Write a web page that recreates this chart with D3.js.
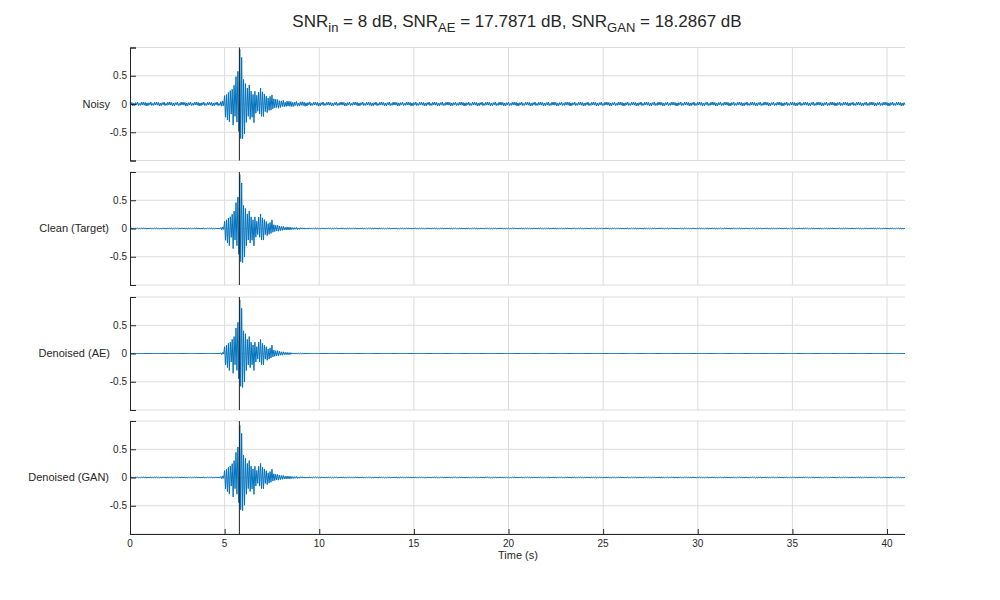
<!DOCTYPE html><html><head><meta charset="utf-8">
<script src="https://cdn.jsdelivr.net/npm/d3@7"></script>
<style>body{margin:0;background:#fff}text{font-family:"Liberation Sans",Arial,sans-serif}</style></head><body>
<svg id="c" width="1000" height="600"></svg>
<script>
// ---- data ----
const panelLabels = ["Noisy","Clean (Target)","Denoised (AE)","Denoised (GAN)"];
const xTicks = [0,5,10,15,20,25,30,35,40];
const yTicks = [-0.5,0,0.5];
const dt = 0.05;
const eventStart = 4.8;
// clean event samples from 4.8 s, step 0.05 s
const eventClean = [0.01,-0.02,0.02,-0.01,
 0.12,-0.2,0.15,-0.25,0.18,-0.3,0.2,-0.15,0.25,-0.35,
 0.3,-0.2,0.45,-0.3,0.55,-0.45,
 0.95,-0.58,0.8,-0.6,0.4,-0.5,0.35,-0.3,0.25,-0.2,
 0.3,-0.25,0.2,-0.2,0.15,-0.3,0.2,-0.15,0.12,-0.1,
 0.2,-0.15,0.25,-0.2,0.18,-0.2,0.15,-0.1,0.12,-0.12,
 0.08,-0.1,0.1,-0.08,0.15,-0.06,0.06,-0.05,0.05,-0.04,
 0.05,-0.04,0.04,-0.03,0.03,-0.03,0.03,-0.02,0.02,-0.02,
 0.02,-0.02,0.015,-0.02,0.015,-0.01,0.01,-0.01,0.01,-0.01,
 0.01,-0.01,0.008,-0.008,0.006,-0.006,0.005,-0.005,0.004,-0.004,
 0.003,-0.003,0.002,-0.002,0.002,-0.002,0.001,-0.001,0.001,-0.001,0.001,-0.001,0.001,-0.001];
const noisePattern = [1,-0.6,0.8,-1,0.5,-0.9,0.7,-0.4,1,-0.8,0.3,-0.7,0.9,-0.5];
const noiseLevel = [0.035,0.008,0,0.008];
const eventGain = [1.0,1.0,1.0,0.97];
const markerTime = 5.78;
const tMax = 40.95;

function series(p){
  const n = Math.round(tMax/dt), out=[];
  for(let i=0;i<=n;i++){
    const t=i*dt; let v=noiseLevel[p]*noisePattern[i%noisePattern.length];
    const k=Math.round((t-eventStart)/dt);
    if(k>=0&&k<eventClean.length) v+= eventClean[k]*eventGain[p];
    if(p===2 && (t<4.8||t>10)) v=0;
    out.push([t,v]);
  }
  return out;
}
const svg=d3.select("#c");
const x=d3.scaleLinear().domain([0,tMax]).range([130,905]);
const tops=[47.5,172,297,421], h=113;
const blue="#0072BD", grid="#dcdcdc", ax="#262626";
tops.forEach((top,p)=>{
  const y=d3.scaleLinear().domain([-1,1]).range([top+h,top]);
  const g=svg.append("g");
  xTicks.forEach(t=>{ if(t>0) g.append("line").attr("x1",x(t)).attr("x2",x(t)).attr("y1",top).attr("y2",top+h).attr("stroke",grid);});
  [-1,-0.5,0,0.5,1].forEach(v=>g.append("line").attr("x1",130).attr("x2",905).attr("y1",y(v)).attr("y2",y(v)).attr("stroke",grid));
  g.append("path").datum(series(p)).attr("fill","none").attr("stroke",blue).attr("stroke-width",1)
   .attr("d",d3.line().x(d=>x(d[0])).y(d=>y(d[1])));
  g.append("line").attr("x1",x(markerTime)).attr("x2",x(markerTime)).attr("y1",top).attr("y2",top+h).attr("stroke","#222").attr("stroke-width",1);
  const ya=g.append("g").attr("transform","translate(130,0)")
   .call(d3.axisRight(y).tickValues([-1,...yTicks,1]).tickSize(6).tickFormat(""));
  ya.select(".domain").attr("stroke",ax).attr("d",`M6,${top+h+0.5}H0.5V${top+0.5}H6`);
  ya.selectAll("line").attr("stroke",ax);
  yTicks.forEach(v=>g.append("text").attr("x",127).attr("y",y(v)).attr("dy","0.35em").attr("text-anchor","end").attr("font-size",10).attr("fill",ax).text(v));
  g.append("text").attr("x",p===1||p===3?109:110).attr("y",y(0)).attr("dy","0.35em").attr("text-anchor","end").attr("font-size",11).attr("fill",ax).text(panelLabels[p]);
  if(p===3){
    const xa=svg.append("g").attr("transform",`translate(0,${top+h})`)
      .call(d3.axisTop(x).tickValues(xTicks).tickSize(5).tickFormat(""));
    xa.select(".domain").attr("stroke",ax).attr("d",`M130,0.5H905`);
    xa.selectAll("line").attr("stroke",ax);
    xTicks.forEach(t=>svg.append("text").attr("x",x(t)).attr("y",top+h+13).attr("text-anchor","middle").attr("font-size",10).attr("fill",ax).text(t));
    svg.append("text").attr("x",518).attr("y",559).attr("text-anchor","middle").attr("font-size",11).attr("fill",ax).text("Time (s)");
  }
});
const tt=svg.append("text").attr("x",517).attr("y",27).attr("text-anchor","middle").attr("font-size",17).attr("fill",ax);
let prevSub=false;
[["SNR",0],["in",1],[" = 8 dB, SNR",0],["AE",1],[" = 17.7871 dB, SNR",0],["GAN",1],[" = 18.2867 dB",0]].forEach(([s,sub])=>{
  const dy = sub ? 5 : (prevSub ? -5 : 0);
  tt.append("tspan").attr("font-size",sub?13:17).attr("dy",dy).text(s);
  prevSub=!!sub;
});
</script></body></html>
